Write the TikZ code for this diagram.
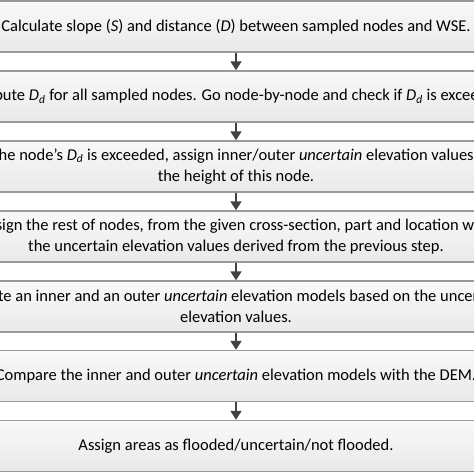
\documentclass[tikz,border=0pt]{standalone}
\usepackage{fontspec}
\setmainfont{Carlito}
\usetikzlibrary{arrows.meta,positioning}
\definecolor{boxline}{HTML}{9A9A9A}
\definecolor{boxtop}{HTML}{F9F9F9}
\definecolor{boxbot}{HTML}{E9E9E9}
\definecolor{arrowgray}{HTML}{3E4347}

\begin{document}
\begin{tikzpicture}[x=1pt,y=-1pt,
    stepbox/.style={rectangle,draw=boxline,line width=1.4pt,top color=boxtop,bottom color=boxbot,
      minimum width=560pt,minimum height=51pt,inner sep=0pt,align=center,
      font=\fontsize{16.5}{21}\selectfont},
    flow/.style={-{Triangle[width=11pt,length=9pt]},arrowgray,line width=1.8pt}]
      \useasboundingbox (0,0) rectangle (474,474);
      \clip (0,0) rectangle (474,474);
      \node[stepbox] (s1) at (236,26.5) {Calculate slope (\textit{S}) and distance (\textit{D}) between sampled nodes and WSE.};
      \node[stepbox] (s2) at (236,96.5) {Compute \textit{D\textsubscript{d}} for all sampled nodes. Go node-by-node and check if \textit{D\textsubscript{d}} is exceeded.};
      \node[stepbox] (s3) at (236,166.5) {If the node’s \textit{D\textsubscript{d}} is exceeded, assign inner/outer \textit{uncertain} elevation values as\\the height of this node.};
      \node[stepbox] (s4) at (236,236.5) {Assign the rest of nodes, from the given cross-section, part and location with\\the uncertain elevation values derived from the previous step.};
      \node[stepbox] (s5) at (236,306.5) {Create an inner and an outer \textit{uncertain} elevation models based on the uncertain\\elevation values.};
      \node[stepbox] (s6) at (236,376) {Compare the inner and outer \textit{uncertain} elevation models with the DEM.};
      \node[stepbox] (s7) at (236,446) {Assign areas as flooded/uncertain/not flooded.};
      \foreach \i/\j in {1/2,2/3,3/4,4/5,5/6,6/7}
        \draw[flow] (s\i.south) -- (s\j.north);
    \end{tikzpicture}
\end{document}
